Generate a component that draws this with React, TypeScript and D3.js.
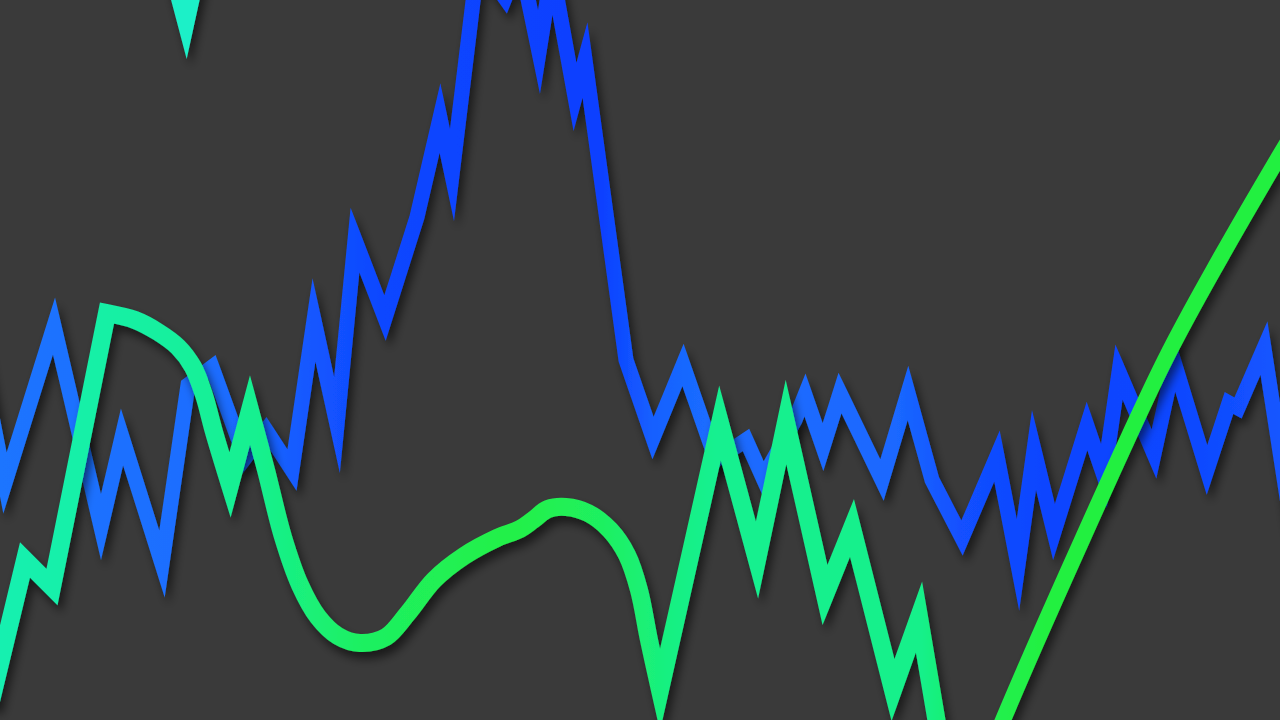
import * as d3 from "d3";
import { useEffect, useRef } from "react";

type Pt = [number, number];

// x runs 0..128 across the frame, y is the level 0..72 (bottom to top)
const blueTrace: Pt[] = [
  [-2.5, 39.0], [0.5, 23.7], [5.4, 39.4], [10.1, 19.3], [12.2, 28.3], [16.2, 15.6],
  [18.8, 33.5], [21.2, 35.3], [24.5, 26.2], [26.6, 29.0], [29.2, 25.0], [31.4, 40.0],
  [33.7, 29.5], [35.5, 48.0], [38.5, 40.2], [41.7, 50.3], [44.0, 60.2], [45.2, 54.5],
  [47.8, 76.0], [50.5, 72.2], [52.0, 76.0], [53.9, 66.8], [55.2, 75.0], [57.5, 62.3],
  [58.5, 66.0], [62.6, 36.0], [65.3, 28.2], [68.3, 35.5], [71.6, 26.0], [74.6, 28.0],
  [76.3, 24.2], [79.5, 30.0], [80.5, 32.5], [82.3, 27.3], [84.0, 32.7], [88.2, 24.0],
  [90.8, 32.7], [93.2, 24.0], [96.2, 18.2], [99.7, 26.4], [101.8, 15.5], [103.4, 27.0],
  [105.4, 18.8], [108.7, 29.4], [110.4, 24.4], [111.9, 34.8], [115.4, 26.6], [117.4, 35.8],
  [120.7, 25.0], [122.9, 31.7], [123.8, 31.2], [126.4, 37.2], [129.2, 19.0],
];

// green line: sharp zigzag pieces joined to smooth arcs
const greenZigStart: Pt[] = [[-1.0, 1.5], [2.5, 16.0], [5.2, 13.3], [10.7, 40.7]];
const greenArcTop: Pt[] = [
  [10.7, 40.7], [13.5, 40.0], [15.8, 38.8], [17.8, 37.3], [19.3, 35.3], [20.4, 32.5],
  [21.4, 28.8], [23.0, 23.5],
];
const greenSpike: Pt[] = [[23.0, 23.5], [25.0, 31.0]];
const greenArcValley: Pt[] = [
  [25.0, 31.0], [26.6, 25.0], [28.3, 18.3], [30.0, 13.5], [31.8, 10.3], [33.8, 8.4],
  [36.0, 7.7], [38.6, 8.3], [40.8, 10.7], [43.4, 14.0], [46.4, 16.4], [49.7, 18.2],
  [52.0, 19.1], [53.3, 20.0], [54.8, 21.1], [56.6, 21.3], [58.8, 20.7], [61.0, 19.0],
  [62.7, 16.5], [63.9, 13.0], [64.9, 8.0], [66.0, 3.0],
];
const greenZigEnd: Pt[] = [
  [66.0, 3.0], [72.0, 29.7], [75.7, 16.0], [78.6, 29.8], [82.5, 12.5], [85.2, 19.2],
  [89.3, 3.0], [91.9, 10.3], [95.0, -8.0],
];
const greenRise: Pt[] = [
  [97.5, -7.0], [100.3, 0], [108.2, 18.0], [116.5, 36.0], [122.2, 46.5], [128.0, 56.5],
  [132.8, 64.5],
];

const cyanTip: Pt[] = [[16.3, 78.0], [18.6, 69.3], [20.5, 78.0]];

const blueStops: [number, string][] = [
  [0, "#1c74ff"], [0.18, "#1a6cff"], [0.24, "#1458ff"], [0.3, "#0e46ff"], [0.47, "#0c40ff"],
  [0.51, "#1660ff"], [0.55, "#1a6cff"], [0.7, "#1a68ff"], [0.75, "#1250ff"], [0.82, "#0e44ff"],
  [0.92, "#0e46ff"], [1, "#1456ff"],
];
const greenStops: [number, string][] = [
  [0, "#14f0b0"], [0.12, "#14f0a0"], [0.2, "#16f090"], [0.28, "#1ef062"], [0.4, "#22f048"],
  [0.47, "#1ff060"], [0.52, "#18f080"], [0.56, "#14f090"], [0.72, "#16f08a"], [0.77, "#20f050"],
  [0.82, "#22f040"], [1, "#22f040"],
];

export default function App() {
  const svgRef = useRef<SVGSVGElement>(null);

  useEffect(() => {
    const width = 1280;
    const height = 720;
    const svg = d3.select(svgRef.current);
    svg.selectAll("*").remove();
    svg.attr("width", width).attr("height", height).attr("viewBox", `0 0 ${width} ${height}`);

    const x = d3.scaleLinear().domain([0, 128]).range([0, width]);
    const y = d3.scaleLinear().domain([0, 72]).range([height, 0]);

    const defs = svg.append("defs");
    const shadow = defs
      .append("filter")
      .attr("id", "shadow")
      .attr("filterUnits", "userSpaceOnUse")
      .attr("x", -200)
      .attr("y", -200)
      .attr("width", width + 400)
      .attr("height", height + 400);
    shadow
      .append("feDropShadow")
      .attr("dx", 4)
      .attr("dy", 7)
      .attr("stdDeviation", 5)
      .attr("flood-color", "#000")
      .attr("flood-opacity", 0.55);

    const addGradient = (id: string, stops: [number, string][]) => {
      const g = defs
        .append("linearGradient")
        .attr("id", id)
        .attr("gradientUnits", "userSpaceOnUse")
        .attr("x1", 0)
        .attr("y1", 0)
        .attr("x2", width)
        .attr("y2", 0);
      stops.forEach(([o, c]) => g.append("stop").attr("offset", o).attr("stop-color", c));
    };
    addGradient("blueGrad", blueStops);
    addGradient("greenGrad", greenStops);

    svg.append("rect").attr("width", width).attr("height", height).attr("fill", "#3a3a3a");

    const lineGen = (curve: d3.CurveFactory) =>
      d3
        .line<Pt>()
        .x((d) => x(d[0]))
        .y((d) => y(d[1]))
        .curve(curve);

    // glue pieces into a single path so joins stay sharp
    const joined = (pieces: { pts: Pt[]; curve: d3.CurveFactory }[]) =>
      pieces
        .map((p, i) => {
          const d = lineGen(p.curve)(p.pts) ?? "";
          return i === 0 ? d : d.replace(/^M[^A-Za-z]*/, "");
        })
        .join("");

    const smooth = d3.curveCatmullRom.alpha(0.5);

    const draw = (d: string, stroke: string, w: number) =>
      svg
        .append("path")
        .attr("d", d)
        .attr("fill", "none")
        .attr("stroke", stroke)
        .attr("stroke-width", w)
        .attr("stroke-linejoin", "miter")
        .attr("stroke-miterlimit", 12)
        .attr("filter", "url(#shadow)");

    draw(lineGen(d3.curveLinear)(blueTrace) ?? "", "url(#blueGrad)", 15);
    draw(lineGen(d3.curveLinear)(cyanTip) ?? "", "#1ef0c8", 15);
    draw(
      joined([
        { pts: greenZigStart, curve: d3.curveLinear },
        { pts: greenArcTop, curve: smooth },
        { pts: greenSpike, curve: d3.curveLinear },
        { pts: greenArcValley, curve: smooth },
        { pts: greenZigEnd, curve: d3.curveLinear },
      ]),
      "url(#greenGrad)",
      18
    );
    draw(lineGen(smooth)(greenRise) ?? "", "url(#greenGrad)", 16);
  }, []);

  return (
    <div style={{ position: "fixed", left: 0, top: 0, width: 1280, height: 720, overflow: "hidden" }}>
      <svg ref={svgRef} style={{ display: "block" }} />
    </div>
  );
}
